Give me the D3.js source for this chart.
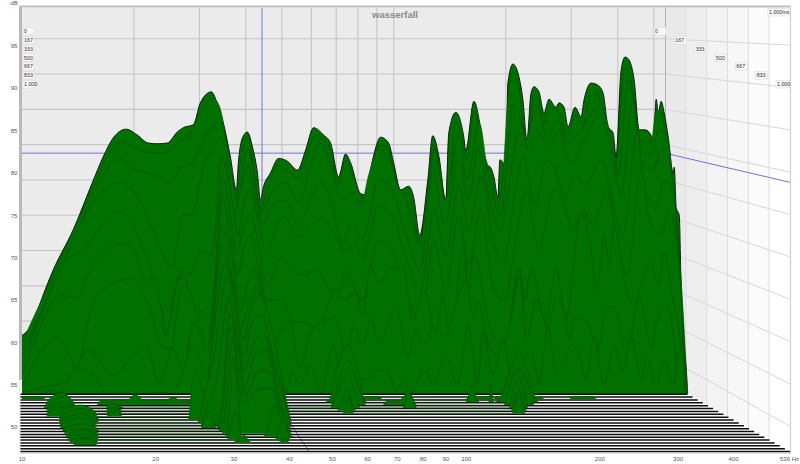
<!DOCTYPE html>
<html><head><meta charset="utf-8">
<style>html,body{margin:0;padding:0;background:#fff}svg{display:block}text{font-family:"Liberation Sans",Arial,sans-serif}</style>
<script src="https://cdnjs.cloudflare.com/ajax/libs/d3/7.8.5/d3.min.js"></script>
</head><body><svg id="c" width="800" height="464"></svg>
<script>
// frequency of each analysis bin (Hz)
const hzBins=[10,10.37,10.75,11.14,11.55,11.97,12.41,12.86,13.33,13.82,14.33,14.85,15.39,15.96,16.54,17.15,17.78,18.43,19.1,19.8,20.52,21.28,22.05,22.86,23.7,24.57,25.47,26.4,27.37,28.37,29.41,30.49,31.6,32.76,33.96,35.2,36.49,37.83,39.21,40.65,42.14,43.68,45.28,46.94,48.66,50.44,52.29,54.2,56.19,58.24,60.38,62.59,64.88,67.25,69.71,72.27,74.91,77.65,80.5,83.44,86.5,89.67,92.95,96.36,99.88,103.5,107.3,111.3,115.3,119.6,123.9,128.5,133.2,138.1,143.1,148.4,153.8,159.4,165.3,171.3,177.6,184.1,190.8,197.8,205.1,212.6,220.4,228.5,236.8,245.5,254.5,263.8,273.5,283.5,293.9,304.6,315.8,327.4,339.3,351.8,364.6,378,391.9,406.2,421.1,436.5,452.5,469.1,486.2,504.1,522.5,536];
const sliceTimes=[0.18,0.221,0.262,0.303,0.344,0.385,0.426,0.467,0.508,0.549,0.59,0.631,0.672,0.713,0.754,0.795,0.836,0.877,0.918,0.959,1];
const dbTicks=[95,90,85,80,75,70,65,60,55,50];
const gridHz=[20,30,40,50,60,70,80,90,100,200,300,400,500];
const hzTickValues=[10,20,30,40,50,60,70,80,90,100,200,300,400,536];
const hzTickLabels=["10","20","30","40","50","60","70","80","90","100","200","300","400","536 Hz"];
const timeTicks=[0,0.167,0.333,0.5,0.667,0.833,1];
const timeLabels=["0","167","333","500","667","833","1.000"];
const cursorHz=44.2, cursorDb=78.8;

// [bin, dB] readings per time slice
const slice0=[[0,54.6],[1.83,56.3],[3.5,60.1],[5.17,63.5],[8.5,69],[11.67,75.4],[13.5,79],[15.17,81.6],[17.33,82.8],[19.17,82],[21,80.9],[22.5,80.8],[24.17,80.9],[25.83,82.4],[26.83,83],[28.5,83.4],[29.67,86.4],[31.5,87.9],[32.67,85.8],[33.5,83.6],[34.67,79],[35.67,74.5],[36,78.2],[36.67,81.6],[37.5,82.4],[38.33,80.4],[39.17,76.8],[39.67,73.1],[40.17,74.9],[41.33,76.8],[42.67,78.8],[44.17,78.4],[45.83,77.2],[47.17,79.9],[48.5,83],[50.17,82],[51.33,80.9],[52.67,76.3],[53.83,79.4],[54.67,78.2],[56.33,74],[57.17,73.8],[58.33,78.6],[59.67,81.7],[61,80.9],[61.83,78.2],[63,74.5],[64.33,75],[65.17,73.5],[66.17,68.3],[67.5,75.8],[68.33,81.9],[69.33,79.2],[70.5,73.1],[71,82.3],[72.17,85.1],[73.5,81.7],[73.83,79.9],[75.17,86.6],[76.33,82.7],[77.17,77.6],[77.67,77.75],[78.5,76.3],[79.17,73.5],[79.5,78.6],[80,78.2],[80.5,76.8],[80.83,89.1],[81.67,91.7],[82.5,90.5],[83.33,86.8],[84,81.3],[84.67,87.7],[85.17,88.6],[86,87.9],[86.83,85],[87.67,86.9],[88.83,85.8],[89.33,86.4],[90.17,85.8],[90.83,83.1],[92,85.8],[93,84.5],[93.5,86.8],[94.67,89.1],[95.83,88.8],[96.67,87.7],[97.5,83.1],[98.33,82.3],[98.83,79],[99.67,90.9],[100.33,92.66],[101,92.25],[101.83,89.5],[102.67,82.7],[103.67,82.7],[104.67,81.9],[105,80.4],[105.5,86.9],[105.83,85],[106.33,86.6],[106.83,85],[107.5,81.7],[108.33,76.8],[108.5,77.6],[108.83,72.1],[109.33,71],[109.67,60.1],[110.17,51.9],[110.5,51.2],[111,46.4]];
const slice1=[[0,54],[5.1,63.1],[11.6,74.7],[15,80.4],[16.2,81.2],[18.4,80.5],[20.7,79.8],[23.3,79.7],[25.6,81],[27.8,82.4],[28.9,84.4],[31.6,87.1],[32.7,85.8],[34,80.1],[35.4,73.3],[36,78.1],[37.4,81.9],[38,79],[39.4,72.2],[40.2,74],[42.3,78.1],[43.8,77.4],[45.5,76.3],[46.8,78.7],[48.4,82.1],[49.8,81.5],[50.9,80.1],[52.2,75.4],[53.4,78.7],[54.6,76.7],[56.2,73.6],[57.9,77.6],[59.2,80.8],[60.5,80.1],[62.2,74],[63.8,74.4],[65.6,67.9],[67,74.7],[67.8,80.8],[69.1,77.4],[70.1,71.3],[71.6,83.9],[72.9,80.8],[73.4,78.7],[74.6,85.5],[76.1,80.1],[77.4,76.7],[78.5,72.6],[79.4,76.7],[80.2,86.9],[81,90.7],[82,88.9],[83.3,80.1],[84.5,87.6],[85.3,86.9],[86.1,83.5],[87,85.8],[88.6,85.3],[90.1,82.1],[91.3,84.8],[92.6,83.5],[93.9,87.6],[95,87.6],[96.7,82.1],[98,78.1],[99.5,91.2],[100.9,88.2],[101.8,81.5],[103.8,80.8],[104.7,85.5],[105.5,85.2],[106.6,80.1],[108,71.3],[109,59.8],[109.9,47]];
const slice2=[[0,53.3],[5.1,62.1],[9.5,70.2],[12,74.9],[14.4,78.2],[16.1,79.3],[18.2,77.6],[20.5,77.2],[23.1,76.3],[24.3,75.8],[25.9,77.8],[28.1,78.6],[29.7,81.6],[32.5,83.9],[33.8,80.3],[35.5,72.8],[36.1,77.6],[37.1,80.5],[37.9,77.6],[39.1,71.9],[40.7,74.2],[43.2,75.9],[45.3,73.3],[47.3,78.2],[48.9,81.2],[50.6,78.2],[52.2,73.5],[54.3,74.6],[55.5,72.8],[56.8,76.9],[58.3,80.3],[60.4,78.9],[61.6,75.3],[62.5,74.5],[65.2,67.7],[66.7,76.2],[67.6,80.3],[69.3,73.5],[71.6,82.1],[72.9,76.2],[74.9,83.9],[76.5,76.2],[78.5,71.5],[79.6,80.3],[80.4,86.3],[81.8,84.3],[82.6,81.6],[84.2,86.3],[85,85],[85.9,82],[87.8,84.3],[89.5,81.2],[91.9,83.3],[94.4,86],[95.4,85.2],[96.9,80.3],[97.7,76.9],[99.3,89.7],[100.1,87.7],[101.5,80.3],[103.1,79.6],[104.3,82.9],[105.6,82.3],[106.7,74.9],[108,60],[109,47]];
const slice3=[[0,53],[5,61.7],[9.4,70.4],[13.2,75],[16,76],[18.1,75],[20.4,71.4],[22,68.4],[24.3,64.6],[26.2,71.7],[27.7,71.7],[29,76.4],[32.2,82],[33.4,79],[34.5,71.7],[35.5,75],[36.8,78.4],[37.8,75],[39.1,70.4],[40.7,73],[42.8,73.7],[44.9,70.4],[48.5,76.1],[50.5,73],[52.1,67.7],[53.7,70.8],[55.4,68.4],[58,76.4],[60.2,75],[62,70.4],[64.8,64.4],[66.8,77.7],[68.7,70.4],[71,79.3],[72.6,73.7],[74.2,80.6],[76.2,73],[77.8,69.7],[79.8,79],[81.1,83.7],[82.4,80.4],[84.3,82.4],[85.6,81],[87.3,83],[89.2,78.4],[91.3,81.7],[94.1,85],[96.1,79],[97.4,74.4],[99.3,87],[100.6,79],[102.6,77.7],[103.9,80.4],[105.2,79],[106.3,72.4],[107.5,57.7],[108,47.7]];
const slice4=[[0,52],[3.7,60],[6.6,65.6],[8.9,66.9],[10.5,67.9],[12.6,70.3],[15.5,72.4],[17.9,70.6],[20.7,64.6],[22.3,60],[23.4,59.3],[25.9,64.6],[27.2,64],[28.8,67.3],[30.7,66.6],[32.3,79.6],[33.6,75.2],[34.9,69.3],[35.7,73.2],[36.9,75.2],[38.2,70.6],[39.3,67.3],[42.2,71.8],[44.5,69],[48.2,71.4],[50.6,69.3],[52.2,67],[53.4,68.3],[55,66.2],[57.6,73.2],[59.8,71.9],[61.6,67.3],[64.4,62],[66.5,72.6],[68.4,66.6],[70.5,75.9],[72.1,69.9],[74.1,77.2],[76,68.6],[77.6,65.3],[79.9,76.5],[80.9,79.8],[82.8,73.2],[84.6,79.2],[85.7,78.5],[87.8,74.5],[89.3,77.2],[91,75.9],[93.5,79.2],[95.6,72.6],[97,69.3],[99.3,83.2],[100.4,75.2],[102.4,73.2],[103.6,76.5],[105.1,74.5],[106.1,64.6],[106.7,54],[107,47.8]];
const slice5=[[0,51],[2.9,57.4],[5,60.9],[6.6,61.6],[8.8,61.2],[10.9,64.9],[13.3,67.5],[16.2,68.4],[17.8,67.8],[19.7,63.6],[21,63.6],[22.6,58.3],[23,56.3],[25,63.6],[25.7,64.2],[27.4,60.6],[30.5,59],[32.1,77.1],[33.4,72.1],[34.3,66.9],[35.6,70.8],[36.6,72.1],[37.9,68.2],[39.2,62.9],[41.4,66.5],[43,65.2],[44.6,64.2],[47.3,64.9],[49.4,62.3],[51,62.3],[51.8,64.9],[53,62.9],[54.6,60.9],[57.1,68.8],[59.4,67.5],[61.1,62.9],[63.9,58.3],[66,68.8],[67.9,62.3],[70,72.1],[71.6,65.6],[73.5,72.8],[75.4,62.9],[77.2,60.9],[79.9,72.8],[80.7,75.4],[82.8,67.5],[85.1,75.4],[86.3,74.8],[88.3,70.2],[89.9,72.8],[91.5,70.8],[93.6,75.4],[95.7,67.5],[96.9,64.2],[99.2,78.1],[100.5,71.5],[102.4,69.5],[103.7,72.8],[104.8,69.5],[105.6,60.9],[106.1,48]];
const slice6=[[0,50.1],[5.7,56.3],[7.6,53.8],[8.8,52.1],[9.7,55.1],[11.2,60.8],[14,63.2],[17.7,64.1],[20.4,59.9],[22.5,55.1],[23.9,55],[24.4,58.6],[26,63.2],[27.6,59.9],[29.6,55.4],[31.9,74.6],[33.1,69.7],[34.3,64.5],[35.4,68.4],[36.3,69.7],[37.6,65.8],[38.9,61.2],[41.4,61.2],[43,58.4],[44.3,58.4],[47,57.6],[49.9,62.5],[51.5,61.2],[53,62.3],[54.2,59.3],[55.4,65.8],[56.6,63.4],[58.9,65.4],[60.7,65.2],[62.1,58.6],[63.9,62.5],[65.8,56.7],[66.9,61.9],[68.2,56],[70.1,68.4],[71,62.5],[71.8,67.1],[74.6,57.3],[76.9,55.4],[79,65.6],[80,61.2],[80.9,65.4],[83.3,58.6],[84.9,65.4],[86.5,58.6],[88.9,72.7],[90.2,69.3],[91.4,62.5],[92.6,69.7],[93.4,65.8],[94.1,71],[96.1,62.5],[97.2,60.6],[100,66.2],[101.2,63.2],[102.1,67.5],[103.5,61.2],[104.5,57.3],[105.1,48.4]];
const slice7=[[0,49.6],[4.4,50.4],[7.6,51.2],[10.4,55.1],[14.4,51.8],[17.6,54.4],[19.5,55.3],[21.8,50.8],[23.7,55.3],[25.5,52.5],[27.1,58.6],[29.3,54.7],[31.6,70.9],[33.2,66.5],[34.5,60.3],[35.8,64.1],[36.9,65.4],[38,61.6],[39.2,55.7],[42.4,58.7],[43.7,52.7],[45.9,57.7],[49.5,59.2],[51.1,54.7],[52.4,58],[53.8,55.7],[55.1,59.2],[56.3,55.7],[59,60.9],[60.9,54.2],[62.2,57.7],[63.4,55.7],[64.9,58],[66.6,56.8],[70.1,64.1],[71.2,59.6],[72,61.3],[73.7,55.7],[75.1,54.4],[77.2,59],[78.5,64.8],[79.7,56.4],[81.2,61.5],[83,58],[84.3,61.5],[85.6,60],[86.4,56.4],[87.2,59.3],[89.4,58.6],[90.8,55.1],[92.2,60.3],[93.5,60.7],[95.4,54.4],[97.5,61.9],[99.4,55.1],[100.1,58.7],[102,60.7],[103.3,53.8],[104.3,48.9]];
const slice8=[[0,49],[3.6,49],[4.7,50.3],[5.7,48.7],[6.8,50.9],[8.8,53.1],[10.7,52.5],[13,48.6],[15.4,48.7],[17.7,49.6],[20.1,48.7],[21.7,50],[23.6,49],[24.5,50.9],[26.8,56],[29,52.2],[31.4,68.8],[33,64.4],[34.2,58],[35.8,61.8],[36.9,63.1],[38.2,58.6],[39.3,54.1],[40.5,51.6],[41.3,49.9],[42.4,52.6],[43.6,50.9],[45.2,53.5],[46.8,49.6],[48.8,56],[49.9,52.6],[51,56],[52,52.8],[53.9,51.6],[55.9,52.8],[57.3,52.6],[58.6,50.2],[59.7,51.2],[60.9,49.6],[63,52.8],[64.5,50.9],[66.4,54.8],[68.3,50.9],[70,58.6],[71.4,50.9],[72.2,57.7],[73.8,52.2],[75.5,56.7],[76.6,52.2],[79.8,55.2],[81,50.9],[82.4,58.4],[83.8,52.2],[84.9,53.9],[86,56],[87.3,54.8],[88.4,51.6],[89.6,57],[91.2,50.9],[92.8,56],[94.2,52.8],[95.5,57],[97,51.6],[97.8,54.4],[99.4,50.9],[100.6,54.1],[102.1,50.9],[102.8,54.8],[103.6,55.4],[103.9,49.5]];

// later slices, low level except near their remaining resonances
const decay2=[[0,47.1],[3.3,47.1],[3.8,45.5],[55.5,45.5],[56.3,47.1],[58.5,47.1],[59,45.5],[72.7,45.5],[73.4,47.1],[76.8,47.1],[77.3,45.5],[77.8,47.1],[79.1,47.1],[79.6,45.5],[83.1,45.5],[83.6,47.1],[85.1,47.1],[85.5,45.5],[89.7,45.5],[90.1,47.1],[93.6,47.1],[94.1,45.5],[111,45.5]];
const decay3=[[0,45.7],[49.3,45.7],[50.1,47.3],[51,50.7],[53.1,54.3],[54.7,50.7],[55.7,47],[56.2,45.7],[72.1,45.7],[72.6,47.6],[73.3,49],[73.9,47.3],[74.4,45.7],[75.9,45.7],[76.2,49],[76.7,45.7],[77.5,47],[79.4,51],[80.7,53.7],[82.1,51],[83.5,47.3],[84,45.7],[111,45.7]];
const decay4=[[0,45.8],[12.1,45.8],[12.8,47.4],[15.8,47.4],[17,47.4],[18.3,48.2],[19.6,47.4],[23.1,47.4],[24.6,47.8],[25.4,47.3],[27.2,47.3],[28,45.8],[49.8,45.8],[50.6,48.5],[51.7,51.4],[52.7,52.7],[54,50],[55,47.6],[55.5,45.8],[58.2,45.8],[58.9,47.3],[60.8,47.3],[61.6,47.9],[62.4,48.7],[63.2,47.4],[63.7,45.8],[77.8,45.8],[78.4,48.7],[80.2,51.4],[82,48.5],[82.6,45.8],[111,45.8]];
const decay5=[[0,45.8],[3.5,45.8],[4.2,47.8],[6.4,48.8],[8,47.8],[9,45.8],[13.5,45.8],[13.8,47.3],[14.8,47.3],[15.7,47],[16.4,45.8],[27.3,45.8],[27.6,47.8],[29.4,49.1],[31.1,48],[32.1,45.8],[49.4,45.8],[50.4,48.5],[52.2,51.1],[53.4,48.5],[54.2,45.8],[61,45.8],[61.3,47.4],[62.1,48.7],[62.9,47.4],[63.2,45.8],[78,45.8],[78.5,48.5],[79.6,50.7],[80.7,48],[81,45.8],[111,45.8]];
const decay6=[[0,45.8],[3.8,45.8],[4.5,47.5],[6.4,48.6],[8,47.5],[8.8,45.8],[13.4,45.8],[13.7,47.1],[14.7,47.3],[15.6,47],[16.1,45.8],[27.1,45.8],[27.6,47.5],[29.3,48.6],[30.9,47.5],[31.4,45.8],[50,45.8],[50.7,47.5],[51.8,49.8],[52.6,47.5],[53.2,45.8],[77.7,45.8],[78.1,47.5],[79,49.5],[79.8,47.5],[80.3,45.8],[111,45.8]];
const decay7=[[0,46],[3.8,46],[4.4,47.3],[6.5,48.4],[7.9,47.3],[8.5,46],[13.3,46],[13.6,47.2],[14.6,47.4],[15.5,47.2],[15.8,46],[26.9,46],[27.5,47.3],[29.1,48.4],[30.5,47.3],[31,46],[50.6,46],[51,47.6],[51.6,48.9],[52,47.6],[52.4,46],[77.4,46],[77.7,47.6],[78.5,48.9],[79.1,47.6],[79.4,46],[111,46]];
const decay8=[[0,46],[3.8,46],[4.1,47.2],[6.3,48.1],[8.2,47.2],[8.8,46],[13.3,46],[13.5,47.2],[14.4,47.4],[15.4,47.2],[15.7,46],[26.7,46],[27.5,47.4],[28.7,48.3],[30,47.4],[30.6,46],[111,46]];
const decay9=[[0,46.1],[5.8,46.1],[6.2,47.8],[6.9,48.3],[9.2,48.7],[11.4,47.8],[12,46.1],[25.9,46.1],[26.6,52.5],[27,53.1],[28.5,49.9],[29.3,54.4],[31.6,66.8],[33.2,62.1],[34.4,57],[35.8,61.4],[37.1,62.7],[39.4,56.3],[41,49.9],[41.8,46.1],[111,46.1]];
const decay10=[[0,46.1],[5.7,46.1],[6.2,47.7],[9.1,48.6],[11.3,47.7],[11.9,46.1],[27.1,46.1],[28.2,50.3],[29.4,54.1],[31.7,65.2],[33.1,60.5],[34.2,55.4],[35.7,59.8],[37.1,60.5],[38.7,55.4],[40.7,49.7],[41.6,46.1],[111,46.1]];
const decay11=[[0,46.2],[5.8,46.2],[6.1,47.5],[9.1,48.3],[10.9,47.5],[11.5,46.2],[27.4,46.2],[28.4,49.4],[29.7,52],[31.7,62.9],[33,58.2],[34.1,53.8],[35.7,57.6],[37.2,58.2],[38.7,53.8],[40.6,48.8],[41.3,46.2],[111,46.2]];
const decay12=[[0,46.2],[5.8,46.2],[6.1,47.4],[9,48.2],[10.8,47.4],[11.4,46.2],[27.3,46.2],[27.6,48],[28.4,48.9],[29.1,47.9],[29.6,46.2],[30.5,50.4],[31.6,61.3],[32.9,56.7],[34,52.3],[35.5,56],[37.2,56.7],[38.7,52.3],[40.4,47.9],[41,46.2],[111,46.2]];
const decay13=[[0,46.1],[6.1,46.1],[6.4,47.3],[9.1,47.8],[11.2,47.3],[11.7,46.1],[29.7,46.1],[30.5,50.7],[31.4,59.8],[32.7,55.1],[33.8,51.4],[35.5,54.2],[37.3,54.5],[38.6,51.4],[40.1,47.6],[40.8,46.1],[111,46.1]];
const decay14=[[0,46.2],[6.3,46.2],[6.6,47.3],[9,47.6],[11.1,47.3],[11.6,46.2],[30,46.2],[30.7,51.1],[31.6,58.8],[32.5,53.6],[33.3,50.5],[35.2,52.3],[37.3,52.6],[38.5,50.5],[40,47.4],[40.5,46.2],[111,46.2]];
const decay15=[[0,46.2],[6.4,46.2],[6.9,47.3],[9.1,47.7],[11.1,47.3],[11.5,46.2],[30.3,46.2],[30.9,50.2],[31.5,56.7],[32.3,51.5],[32.7,46.2],[36,46.2],[36.8,48.4],[37.7,50.9],[38.9,48.4],[39.9,47.5],[40.4,46.2],[111,46.2]];
const decay16=[[0,46.3],[6.7,46.3],[7.1,47.4],[9,47.6],[11,47.4],[11.4,46.3],[30.4,46.3],[31,48.7],[31.6,50.5],[32.2,48.3],[32.6,46.3],[37.5,46.3],[38,48.1],[38.9,49.3],[39.4,47.8],[39.7,46.3],[111,46.3]];
const decay17=[[0,46.2],[6.9,46.2],[7.4,47.4],[9.1,47.6],[10.8,47.4],[11.2,46.2],[30.9,46.2],[31.8,47.3],[32.7,47.9],[33.3,47.3],[33.7,46.2],[37.4,46.2],[38,47.1],[38.6,47.6],[39.2,47.1],[39.5,46.2],[111,46.2]];
const decay18=[[0,46.2],[7.5,46.2],[7.9,47.5],[9.2,47.8],[10.5,47.5],[11,46.2],[111,46.2]];
const wallSlices=[slice0,slice1,slice2,slice3,slice4,slice5,slice6,slice7,slice8];
const decaySlices={2:decay2,3:decay3,4:decay4,5:decay5,6:decay6,7:decay7,8:decay8,9:decay9,10:decay10,11:decay11,12:decay12,13:decay13,14:decay14,15:decay15,16:decay16,17:decay17,18:decay18};

const svg=d3.select("#c");
const binHz=d3.scaleLinear().domain(d3.range(hzBins.length)).range(hzBins);
const x=t=>d3.scaleLog().domain([10,536]).range([22,665+125*t]);
const y=t=>d3.scaleLinear().domain([99.5,0]).range([7,7+99.5*(7.06+1.41*t)]);
const floorY=d3.scaleLinear().domain([0,1]).range([381,451]);
const xBack=x(0),xFront=x(1),yBack=y(0),yFront=y(1);

// walls
svg.append("rect").attr("x",22).attr("y",8).attr("width",643).attr("height",386).attr("fill","#ebebeb");
const panels=d3.range(6);
const panelFill=["#e9e9e9","#eeeeee","#f3f3f3","#f7f7f7","#fbfbfb","#ffffff"];
panels.forEach(i=>{const a=timeTicks[i],b=timeTicks[i+1];
 svg.append("path").attr("fill",panelFill[i]).attr("d",d3.line()([[x(a)(536),8],[x(b)(536),8],[x(b)(536),floorY(b)],[x(a)(536),floorY(a)]]));});
gridHz.forEach(f=>svg.append("line").attr("x1",xBack(f)).attr("x2",xBack(f)).attr("y1",8).attr("y2",394).attr("stroke","#c6c6c6").attr("stroke-width",1.1));
dbTicks.forEach(d=>{
 svg.append("line").attr("x1",22).attr("x2",665).attr("y1",yBack(d)).attr("y2",yBack(d)).attr("stroke","#c6c6c6").attr("stroke-width",1.1);
 if(yBack(d)<floorY(0)) svg.append("line").attr("x1",665).attr("x2",790).attr("y1",yBack(d)).attr("y2",yFront(d)).attr("stroke","#d6d6d6").attr("stroke-width",1);
});
timeTicks.slice(1,6).forEach(t=>svg.append("line").attr("x1",x(t)(536)).attr("x2",x(t)(536)).attr("y1",8).attr("y2",floorY(t)).attr("stroke","#dcdcdc").attr("stroke-width",1));
svg.append("line").attr("x1",665.5).attr("x2",665.5).attr("y1",7).attr("y2",385).attr("stroke","#b0b0b0").attr("stroke-width",1);
// cursor
const cur="#6f74d8";
svg.append("line").attr("x1",xBack(cursorHz)).attr("x2",xBack(cursorHz)).attr("y1",8).attr("y2",394).attr("stroke",cur).attr("stroke-width",1);
svg.append("line").attr("x1",22).attr("x2",665).attr("y1",yBack(cursorDb)).attr("y2",yBack(cursorDb)).attr("stroke",cur).attr("stroke-width",1);
svg.append("line").attr("x1",665).attr("x2",790).attr("y1",yBack(cursorDb)).attr("y2",yFront(cursorDb)).attr("stroke",cur).attr("stroke-width",1);
// floor
svg.append("path").attr("fill","#ffffff").attr("d",d3.line()([[22,floorY(.18)],[x(.18)(536),floorY(.18)],[x(1)(536),floorY(1)],[22,floorY(1)]]));
svg.append("line").attr("x1",xBack(cursorHz)).attr("x2",xFront(cursorHz)).attr("y1",floorY(0)).attr("y2",floorY(1)).attr("stroke",cur).attr("stroke-width",1);

function drawSlice(pts,t,base,stroke,sw){
 const X=x(t),Y=y(t);
 const P=pts.map(p=>[X(binHz(p[0])),Math.min(Y(p[1]),base)]);
 const up=i=>P[i]&&P[i][1]<base-.1;
 svg.append("path").attr("fill","#007000")
  .attr("d",d3.area().x(d=>d[0]).y0(base).y1(d=>d[1]).curve(d3.curveMonotoneX)(P));
 svg.append("path").attr("fill","none").attr("stroke",stroke).attr("stroke-width",sw).attr("stroke-linejoin","round")
  .attr("d",d3.line().defined((d,i)=>up(i)||up(i-1)||up(i+1)).curve(d3.curveMonotoneX)(P));
}
// slices standing on the back edge of the floor
const wallBase=floorY(sliceTimes[0]);
wallSlices.forEach((pts,i)=>drawSlice(pts,sliceTimes[i],wallBase,i==0?"#0c200c":"#0b4a0b",i==0?1:.6));
// floor slices, back to front
sliceTimes.forEach((t,i)=>{
 const b=floorY(t);
 svg.append("line").attr("x1",20).attr("x2",x(t)(536)).attr("y1",b+.6).attr("y2",b+.6).attr("stroke","#0d0d0d").attr("stroke-width",1.5);
 if(decaySlices[i]) drawSlice(decaySlices[i],t,b,"#0b4a0b",.6);
});
// frame
svg.append("line").attr("x1",20.5).attr("x2",20.5).attr("y1",7).attr("y2",380).attr("stroke","#b9b9b9").attr("stroke-width",3);
svg.append("line").attr("x1",20).attr("x2",20).attr("y1",380).attr("y2",453).attr("stroke","#dddddd").attr("stroke-width",1);
svg.append("line").attr("x1",19).attr("x2",791).attr("y1",6.5).attr("y2",6.5).attr("stroke","#bdbdbd").attr("stroke-width",2);
svg.append("line").attr("x1",790.5).attr("x2",790.5).attr("y1",6).attr("y2",453).attr("stroke","#cfcfcf").attr("stroke-width",1.2);
svg.append("line").attr("x1",20).attr("x2",791).attr("y1",453).attr("y2",453).attr("stroke","#bdbdbd").attr("stroke-width",1.2);
// text
const lab=(s,px,py,a,sz,col)=>svg.append("text").attr("x",px).attr("y",py).attr("text-anchor",a||"middle").attr("font-size",sz||6).attr("fill",col||"#555").text(s);
lab("wasserfall",395,17.5,"middle",9.5,"#8a8a8a").attr("font-weight","bold");
lab("dB",14,4.5,"middle",6);
dbTicks.forEach(d=>lab(d,14,yFront(d)+3));
hzTickValues.forEach((f,i)=>lab(hzTickLabels[i],i==13?799:xFront(f),461,i==13?"end":"middle",6));
const boxX=d3.scaleLinear().domain([0,1]).range([654,776]);
const boxY=d3.scaleLinear().domain([0,1]).range([31,84]);
const box=(s,bx,by,w)=>{svg.append("rect").attr("x",bx).attr("y",by-3.5).attr("width",w).attr("height",7.5).attr("fill","#f8f8f8").attr("stroke","#dcdcdc").attr("stroke-width",.6);
 lab(s,bx+1,by+2,"start",5.3,"#333");};
timeTicks.forEach((t,i)=>{box(timeLabels[i],23,boxY(t),i==6?12:11);box(timeLabels[i],boxX(t),boxY(t),i==6?13:12);});
box("1.000ms",768,12,21);
</script></body></html>
